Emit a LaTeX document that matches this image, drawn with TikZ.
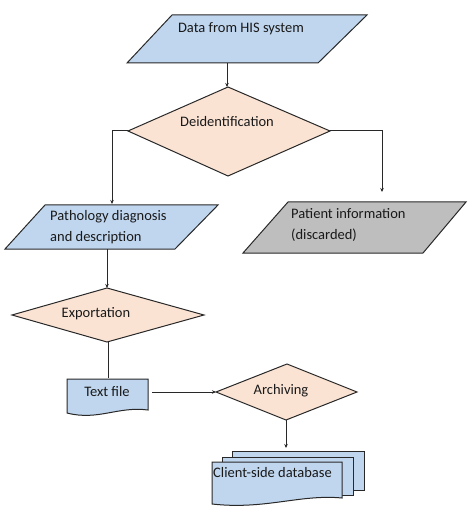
\documentclass[tikz,border=0pt]{standalone}
\usepackage{fontspec}
\setmainfont{Carlito}
\usetikzlibrary{arrows.meta}
\definecolor{boxblue}{RGB}{192,214,238}
\definecolor{boxpeach}{RGB}{251,227,212}
\definecolor{boxgray}{RGB}{190,190,190}
\definecolor{edge}{RGB}{40,40,40}
\tikzset{
  shapeline/.style={draw=edge, line width=1pt, line join=miter},
  conn/.style={draw=edge, line width=1pt, -{Stealth[length=4pt,width=3.5pt]}},
  plainconn/.style={draw=edge, line width=1pt},
  lbl/.style={font=\fontsize{14.5}{17}\selectfont, text=black!90, inner sep=0pt},
  lbll/.style={lbl, anchor=west},
}
\begin{document}
\begin{tikzpicture}[x=1pt,y=-1pt]
\useasboundingbox (0,0) rectangle (474,518);
% Data from HIS system
\draw[shapeline, fill=boxblue] (172,15) -- (367,15) -- (318,63) -- (127,63) -- cycle;
\coordinate (p1s) at (227,63);
\node[lbl] (t1) at (241,29) {Data from HIS system};
% Deidentification
\draw[shapeline, fill=boxpeach] (228,87) -- (330,131) -- (228,176) -- (128,131) -- cycle;
\coordinate (d1n) at (227,87);
\coordinate (d1w) at (128,131);
\coordinate (d1e) at (330,131);
\node[lbl] (t2) at (227,122) {Deidentification};
% Pathology
\draw[shapeline, fill=boxblue] (45,205) -- (218,205) -- (175,249) -- (5,249) -- cycle;
\coordinate (p2n) at (112,204);
\coordinate (p2s) at (107,249);
\node[lbll] (t3a) at (50,217) {Pathology diagnosis};
\node[lbll] (t3b) at (50,238) {and description};
% Patient information
\draw[shapeline, fill=boxgray] (288,202) -- (466,202) -- (423,253) -- (243,253) -- cycle;
\coordinate (p3n) at (382,192);
\node[lbll] (t4a) at (291,214) {Patient information};
\node[lbll] (t4b) at (291,235) {(discarded)};
% Exportation
\draw[shapeline, fill=boxpeach] (107,288) -- (204,315) -- (107,342) -- (12,315) -- cycle;
\coordinate (d2n) at (107,288);
\coordinate (d2s) at (108,342);
\node[lbl] (t5) at (96,314) {Exportation};
% Text file
\draw[shapeline, fill=boxblue] (67,379) -- (148,379) -- (148,410)
  .. controls (118,406) and (98,421) .. (67,413) -- cycle;
\coordinate (tfn) at (108,378);
\coordinate (tfe) at (152,392);
\node[lbl] (t6) at (107,392) {Text file};
% Archiving
\draw[shapeline, fill=boxpeach] (216,392) -- (287,364) -- (357,392) -- (286,420) -- cycle;
\coordinate (d3w) at (216,392);
\coordinate (d3s) at (286,420);
\node[lbl] (t7) at (281,391) {Archiving};
% Client-side database
\draw[shapeline, fill=boxblue] (232,451) rectangle (364,490);
\draw[shapeline, fill=boxblue] (222,457) rectangle (353,495);
\draw[shapeline, fill=boxblue] (212,462) -- (342,462) -- (342,498)
  .. controls (300,494) and (265,510) .. (212,504) -- cycle;
\coordinate (dbn) at (286,448);
\node[lbll] (t8) at (213,473) {Client-side database};
% connectors
\draw[conn] (p1s) -- (d1n);
\draw[conn] (d1w) -- (112,131) -- (p2n);
\draw[conn] (d1e) -- (382,131) -- (p3n);
\draw[conn] (p2s) -- (d2n);
\draw[plainconn] (d2s) -- (tfn);
\draw[conn] (tfe) -- (d3w);
\draw[conn] (d3s) -- (dbn);
\end{tikzpicture}
\end{document}
